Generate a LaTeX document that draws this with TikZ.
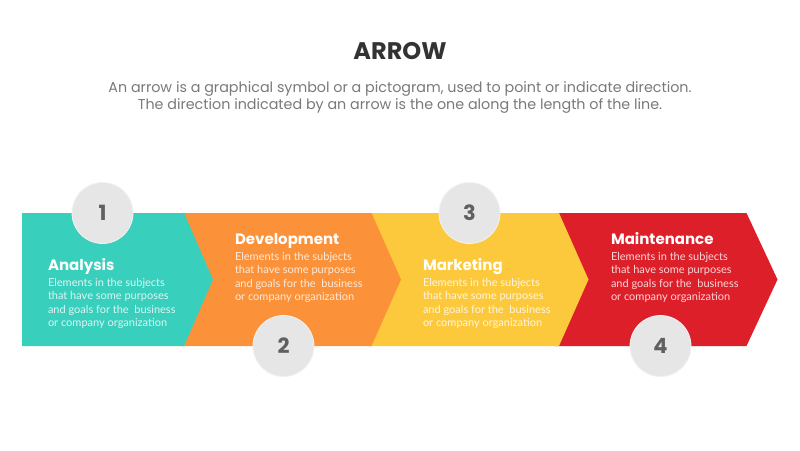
\documentclass[tikz,border=0pt]{standalone}
\usepackage{fontspec}
\setmainfont{Lato}
\newfontfamily\popfont{Poppins}
\usetikzlibrary{positioning}

\definecolor{tealc}{HTML}{38CFBD}
\definecolor{orangec}{HTML}{FB9138}
\definecolor{yellowc}{HTML}{FDC93C}
\definecolor{redc}{HTML}{DD1F2A}
\definecolor{circc}{HTML}{E6E6E6}
\definecolor{numc}{HTML}{606060}

\begin{document}
\begin{tikzpicture}[
        x=1pt, y=-1pt,
        every node/.style={inner sep=0pt, outer sep=0pt},
        heading/.style={font=\popfont\bfseries\fontsize{15}{18}\selectfont, text=white, anchor=base west},
        body/.style={font=\fontsize{11}{13.5}\selectfont, text=white, text opacity=0.82, align=left},
        numcirc/.style={circle, fill=circc, draw=black!5, line width=0.8pt, minimum size=61pt, text=numc, font=\popfont\bfseries\fontsize{21}{24}\selectfont}
    ]
    \useasboundingbox (0,0) rectangle (800,450);
    \fill[white] (0,0) rectangle (800,450);

    % Banner
    \fill[redc] (555,213) -- (746.5,213) -- (777.5,279.5) -- (746.5,346) -- (555,346) -- cycle;
    \fill[yellowc] (368,213) -- (559,213) -- (588.5,279.5) -- (559,346) -- (368,346) -- cycle;
    \fill[orangec] (180,213) -- (371.5,213) -- (401,279.5) -- (371.5,346) -- (180,346) -- cycle;
    \fill[tealc] (22,213) -- (184,213) -- (213,279.5) -- (184,346) -- (22,346) -- cycle;

    % Title
    \node (title) [anchor=base, text=black!80, font=\popfont\bfseries\fontsize{24}{28}\selectfont] at (400,59.5) {ARROW};
    \node (sub) [anchor=north, align=center, text=black!52, font=\popfont\fontsize{14.3}{17.6}\selectfont] at (400,81.5)
        {An arrow is a graphical symbol or a pictogram, used to point or indicate direction.\\
         The direction indicated by an arrow is the one along the length of the line.};

    % Steps
    \node (ana) [heading] at (48,270) {Analysis};
    \node (ana-txt) [body, below right=8pt and 0pt of ana.base west]
        {Elements in the subjects\\ that have some purposes\\ and goals for the~ business\\ or company organization};

    \node (dev) [heading] at (235,244) {Development};
    \node (dev-txt) [body, below right=8pt and 0pt of dev.base west]
        {Elements in the subjects\\ that have some purposes\\ and goals for the~ business\\ or company organization};

    \node (mkt) [heading] at (423,270) {Marketing};
    \node (mkt-txt) [body, below right=8pt and 0pt of mkt.base west]
        {Elements in the subjects\\ that have some purposes\\ and goals for the~ business\\ or company organization};

    \node (mnt) [heading] at (611,244) {Maintenance};
    \node (mnt-txt) [body, below right=8pt and 0pt of mnt.base west]
        {Elements in the subjects\\ that have some purposes\\ and goals for the~ business\\ or company organization};

    % Numbers
    \node (n1) [numcirc] at (102.5,213) {1};
    \node (n2) [numcirc] at (283.5,346) {2};
    \node (n3) [numcirc] at (469.5,213) {3};
    \node (n4) [numcirc] at (660.5,346) {4};

\end{tikzpicture}
\end{document}
